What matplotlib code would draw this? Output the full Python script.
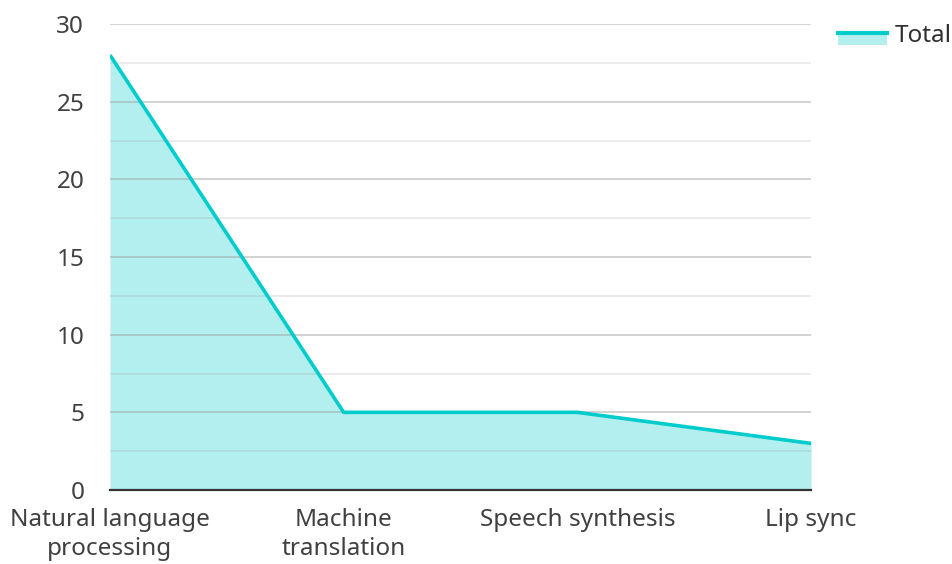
import matplotlib
matplotlib.use("Agg")
import matplotlib.pyplot as plt
from matplotlib.legend_handler import HandlerBase
from matplotlib.patches import Rectangle
from matplotlib.lines import Line2D

plt.rcParams['font.family'] = ['Noto Sans', 'DejaVu Sans']

categories = ["Natural language\nprocessing", "Machine\ntranslation", "Speech synthesis", "Lip sync"]
totals = [28, 5, 5, 3]
series_name = "Total"

line_color = "#00CCCC"
fill_color = "#B2EFEE"
fs = 17.5

fig = plt.figure(figsize=(9.53, 5.64), dpi=100)
ax = fig.add_axes([110/953, 1-490/564, (811-110)/953, (490-24)/564])

x = list(range(len(categories)))
ax.fill_between(x, totals, 0, color=fill_color, linewidth=0, zorder=1)
ax.plot(x, totals, color=line_color, linewidth=2.6, zorder=3, solid_capstyle='butt')

ax.set_xlim(0, len(categories) - 1)
ax.set_ylim(0, 30)
ax.set_yticks([0, 5, 10, 15, 20, 25, 30])
ax.set_yticks([2.5, 7.5, 12.5, 17.5, 22.5, 27.5], minor=True)
ax.grid(True, which='major', axis='y', color='#a0a0a0', alpha=0.55, linewidth=1.2, zorder=2)
ax.grid(True, which='minor', axis='y', color='#a0a0a0', alpha=0.25, linewidth=1.2, zorder=2)
ax.set_axisbelow(False)

ax.set_xticks(x)
ax.set_xticklabels(categories, linespacing=1.25)
for s in ['top', 'right', 'left']:
    ax.spines[s].set_visible(False)
ax.spines['bottom'].set_color('#333333')
ax.spines['bottom'].set_linewidth(1.6)
ax.spines['bottom'].set_zorder(4)
ax.tick_params(axis='both', which='both', length=0, labelsize=fs, colors='#404040')
ax.tick_params(axis='y', pad=18.5)
ax.tick_params(axis='x', pad=13)


class AreaHandler(HandlerBase):
    def create_artists(self, legend, orig_handle, xdescent, ydescent, width, height, fontsize, trans):
        r = Rectangle((-xdescent, -ydescent - height*0.2), width, height*0.72,
                      facecolor=fill_color, edgecolor='none', transform=trans)
        l = Line2D([-xdescent, -xdescent + width], [-ydescent + height*0.52]*2,
                   color=line_color, linewidth=3, transform=trans)
        return [r, l]


h = Rectangle((0, 0), 1, 1)
leg = fig.legend([h], [series_name], handler_map={Rectangle: AreaHandler()},
                 loc='center left', bbox_to_anchor=(838/953, 1-36/564), frameon=False,
                 fontsize=fs, handlelength=2.0, handletextpad=0.33, borderpad=0,
                 borderaxespad=0)
for t in leg.get_texts():
    t.set_color('#303030')

fig.savefig("out.png", dpi=100)
